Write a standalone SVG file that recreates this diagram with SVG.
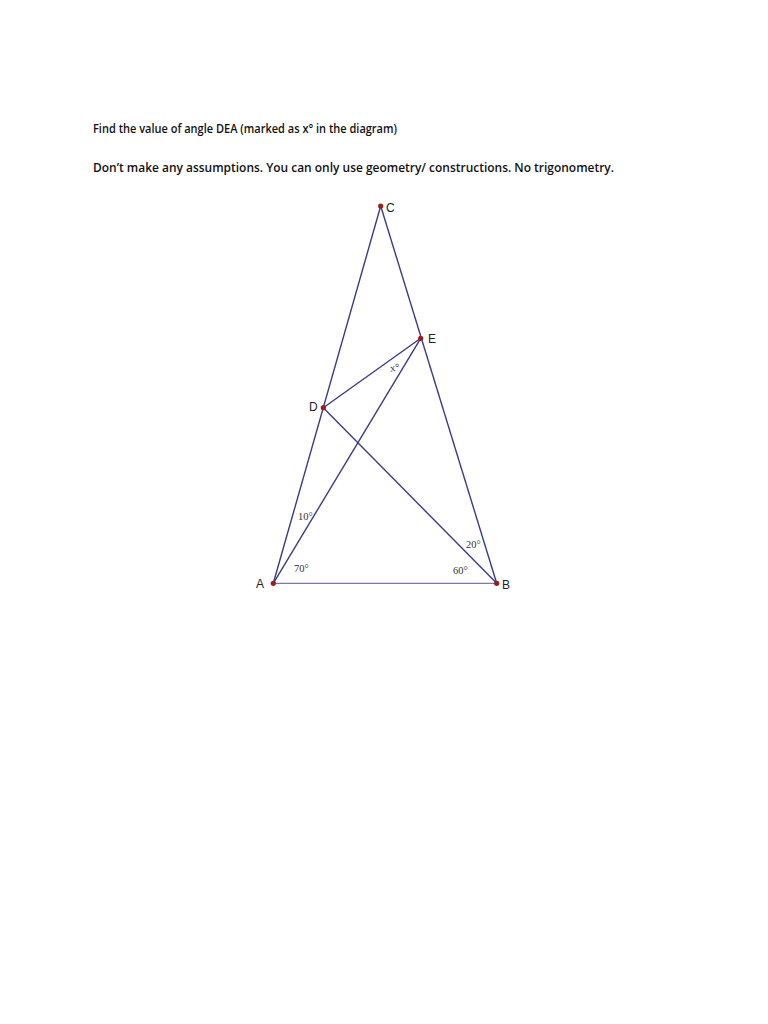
<svg xmlns="http://www.w3.org/2000/svg" width="768" height="1024" viewBox="0 0 768 1024">
<style>
.t{font-family:"Open Sans","Liberation Sans",sans-serif;font-size:12.5px;font-weight:600;fill:#111}
.ln{stroke:#3b3a86;stroke-width:1.4;fill:none}
.base{stroke:#7a7aa8;stroke-width:1.2}
.pt{fill:#9a1c22}
.lbl{font-family:"Liberation Sans",Arial,sans-serif;font-size:12px;fill:#222}
.ang{font-family:"Liberation Serif","Times New Roman",serif;font-size:10.5px;fill:#333}
</style>
<rect width="768" height="1024" fill="#fff"/>
<text class="t" x="93" y="133" textLength="304" lengthAdjust="spacingAndGlyphs">Find the value of angle DEA (marked as x° in the diagram)</text>
<text class="t" x="93" y="172" textLength="521" lengthAdjust="spacingAndGlyphs">Don’t make any assumptions. You can only use geometry/ constructions. No trigonometry.</text>
<g id="connectors">
<line class="ln base" x1="273.3" y1="583.3" x2="496.7" y2="583.3"/>
<line class="ln" x1="273.3" y1="583.3" x2="380.7" y2="206"/>
<line class="ln" x1="380.7" y1="206" x2="496.7" y2="583.3"/>
<line class="ln" x1="273.3" y1="583.3" x2="420.7" y2="338.3"/>
<line class="ln" x1="323.3" y1="407.7" x2="420.7" y2="338.3"/>
<line class="ln" x1="323.3" y1="407.7" x2="496.7" y2="583.3"/>
</g>
<g id="node-C"><circle class="pt" cx="380.7" cy="206" r="2.6"/><text class="lbl" x="386" y="212">C</text></g>
<g id="node-E"><circle class="pt" cx="420.7" cy="338.3" r="2.6"/><text class="lbl" x="428" y="343">E</text></g>
<g id="node-D"><circle class="pt" cx="323.3" cy="407.7" r="2.6"/><text class="lbl" x="309" y="411">D</text></g>
<g id="node-A"><circle class="pt" cx="273.3" cy="583.3" r="2.6"/><text class="lbl" x="256" y="588">A</text></g>
<g id="node-B"><circle class="pt" cx="496.7" cy="583.3" r="2.6"/><text class="lbl" x="502" y="589">B</text></g>
<g id="angles">
<text class="ang" x="390" y="371" transform="rotate(-8 395 368)">x°</text>
<text class="ang" x="298" y="520">10°</text>
<text class="ang" x="294" y="572">70°</text>
<text class="ang" x="466" y="548">20°</text>
<text class="ang" x="453" y="574">60°</text>
</g>
</svg>
